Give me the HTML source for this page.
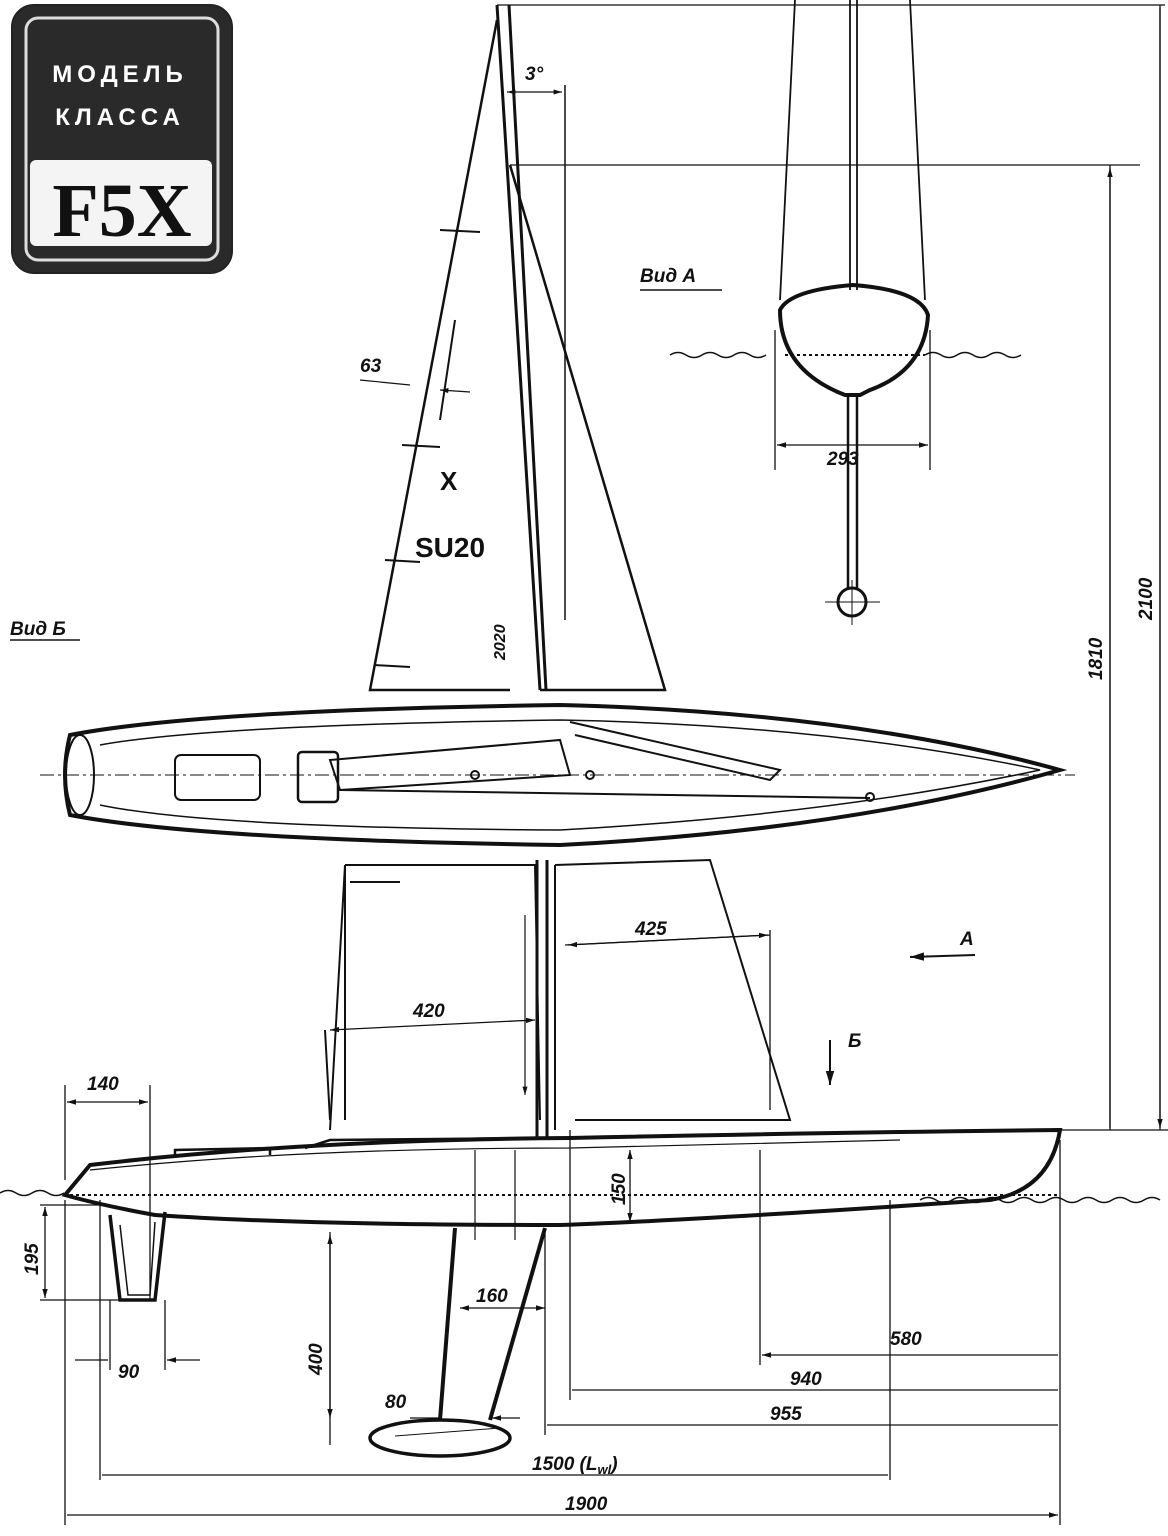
<!DOCTYPE html>
<html><head><meta charset="utf-8"><style>
html,body{margin:0;padding:0;background:#fff;}
svg{display:block;}
text{font-family:"Liberation Sans",sans-serif;font-weight:bold;fill:#111;font-style:italic;}
</style></head><body>
<svg width="1168" height="1536" viewBox="0 0 1168 1536" xmlns="http://www.w3.org/2000/svg">
<defs>
<marker id="a" viewBox="0 0 10 10" refX="10" refY="5" markerWidth="7" markerHeight="7" orient="auto-start-reverse"><path d="M0,2 L10,5 L0,8 z" fill="#111"/></marker>
</defs>
<g stroke="#111" fill="none" stroke-width="2">
<!-- logo -->
<rect x="12" y="5" width="220" height="268" rx="22" fill="#2a2a2a" stroke="#222"/>
<rect x="26" y="18" width="192" height="242" rx="12" fill="none" stroke="#ddd" stroke-width="3"/>
<rect x="30" y="160" width="182" height="86" rx="6" fill="#f4f4f4" stroke="none"/>
</g>
<text x="120" y="82" text-anchor="middle" font-size="24" style="fill:#fff;font-style:normal;letter-spacing:5px">МОДЕЛЬ</text>
<text x="120" y="125" text-anchor="middle" font-size="24" style="fill:#fff;font-style:normal;letter-spacing:5px">КЛАССА</text>
<text x="122" y="236" text-anchor="middle" font-size="76" style="fill:#111;font-style:normal;font-family:'Liberation Serif',serif">F5X</text>

<g stroke="#111" fill="none" stroke-width="2">
<!-- mast -->
<path d="M497,5 L540,690 M509,5 L546,690" stroke-width="3"/>
<!-- mainsail -->
<path d="M497,20 L370,690 L510,690" stroke-width="2.5"/>
<path d="M440,230 L480,232 M402,445 L440,447 M385,560 L420,562 M374,665 L410,667 M455,320 L440,420" stroke-width="2"/>
<!-- jib -->
<path d="M510,165 L665,690 L540,690" stroke-width="2.5"/>
<path d="M565,85 L565,620" stroke-width="1.5"/>
<path d="M507,92 L562,92" stroke-width="1.2" marker-start="url(#a)" marker-end="url(#a)"/>
<path d="M360,380 L410,385 M470,392 L440,390" stroke-width="1.2" marker-end="url(#a)"/>
<!-- top dims -->
<path d="M497,5 L1165,5 M510,165 L1140,165 M1110,165 L1110,1130 M1160,5 L1160,1130 M1060,1130 L1168,1130" stroke-width="1.3"/>
<path d="M1110,168 L1110,1128 M1160,8 L1160,1128" stroke-width="1.3" marker-start="url(#a)" marker-end="url(#a)"/>
<!-- view A -->
<path d="M795,0 L780,300 M910,0 L925,300 M850,0 L850,290 M857,0 L857,290" stroke-width="1.8"/>
<path d="M780,310 Q790,290 853,285 Q920,290 928,315 Q925,370 870,390 L860,395 L845,395 Q780,370 780,310 Z" stroke-width="4"/>
<path d="M848,395 L848,590 M857,395 L857,590" stroke-width="2.5"/>
<circle cx="852" cy="602" r="14" stroke-width="3"/>
<path d="M825,602 L880,602 M852,580 L852,625" stroke-width="1"/>
<path d="M670,355 q8,-5 16,0 t16,0 t16,0 t16,0 t16,0 t16,0 M925,355 q8,-5 16,0 t16,0 t16,0 t16,0 t16,0 t16,0" stroke-width="1.5"/>
<path d="M785,355 L925,355" stroke-dasharray="3,3"/>
<path d="M775,330 L775,470 M930,330 L930,470" stroke-width="1.3"/>
<path d="M777,445 L928,445" stroke-width="1.3" marker-start="url(#a)" marker-end="url(#a)"/>
<path d="M640,290 L722,290 M10,640 L80,640" stroke-width="1.5"/>
<!-- top view hull -->
<path d="M70,735 Q200,710 560,705 Q850,712 1060,770 Q850,830 560,845 Q200,840 70,815 Q60,775 70,735 Z" stroke-width="4"/>
<path d="M100,745 Q210,725 560,720 Q830,725 1040,770 Q830,815 560,830 Q210,828 100,805" stroke-width="1.5"/>
<ellipse cx="80" cy="775" rx="14" ry="40" stroke-width="2"/>
<rect x="175" y="755" width="85" height="45" rx="6" stroke-width="2"/>
<rect x="298" y="752" width="40" height="50" rx="4" stroke-width="2.5"/>
<path d="M40,775 L1075,775" stroke-width="1" stroke-dasharray="14,4,3,4"/>
<path d="M330,760 L560,740 L570,775 L340,790 Z M570,722 L780,770 L770,780 L575,735" stroke-width="2"/>
<path d="M340,790 L870,798" stroke-width="2"/>
<circle cx="475" cy="775" r="4"/><circle cx="590" cy="775" r="4"/><circle cx="870" cy="797" r="4"/>
<!-- side view sails -->
<path d="M345,865 L345,1120 M345,865 L535,865 L540,1120 M325,1030 L330,1120" stroke-width="2"/>
<path d="M345,865 L330,1130" stroke-width="2"/>
<path d="M555,865 L710,860 L790,1120 L575,1120" stroke-width="2"/>
<path d="M555,865 L555,1130" stroke-width="2"/>
<path d="M537,860 L537,1140 M547,860 L547,1140" stroke-width="3"/>
<path d="M350,882 L400,882" stroke-width="2"/>
<path d="M525,915 L525,1095" stroke-width="1.2" marker-end="url(#a)"/>
<path d="M565,945 L770,935 M770,930 L770,1110" stroke-width="1.3"/>
<path d="M568,945 L768,935" marker-start="url(#a)" marker-end="url(#a)" stroke-width="1.3"/>
<path d="M330,1030 L535,1020" marker-start="url(#a)" marker-end="url(#a)" stroke-width="1.3"/>
<path d="M975,955 L910,957" marker-end="url(#a)" stroke-width="2"/>
<path d="M830,1040 L830,1085" marker-end="url(#a)" stroke-width="2"/>
<!-- side hull -->
<path d="M65,1195 L90,1165 Q300,1140 570,1138 Q850,1132 1060,1130 Q1050,1190 990,1200 Q700,1220 560,1225 Q300,1225 155,1215 Q100,1205 65,1195 Z" stroke-width="4"/>
<path d="M90,1170 Q300,1148 570,1148 L900,1140" stroke-width="1.2"/>
<path d="M175,1158 L175,1150 L270,1148 L270,1155 M305,1148 L330,1140 L545,1138" stroke-width="2.5"/>
<path d="M0,1193 q8,-5 16,0 t16,0 t16,0 t16,0 M920,1200 q8,-5 16,0 t16,0 t16,0 t16,0 t16,0 t16,0 t16,0 t16,0 t16,0 t16,0 t16,0 t16,0 t16,0 t16,0 t16,0" stroke-width="1.5"/>
<path d="M70,1195 L1060,1195" stroke-dasharray="3,3" stroke-width="2"/>
<!-- rudder -->
<path d="M110,1215 L120,1300 L155,1300 L165,1212" stroke-width="3.5"/>
<path d="M120,1225 L128,1295 L150,1295 L155,1222" stroke-width="1.5"/>
<!-- keel -->
<path d="M455,1228 L440,1420 M545,1228 L490,1420" stroke-width="4"/>
<ellipse cx="440" cy="1438" rx="70" ry="18" stroke-width="3.5"/>
<path d="M395,1436 L500,1428" stroke-width="1"/>
<!-- dims side -->
<path d="M65,1085 L65,1180 M150,1085 L150,1300" stroke-width="1.3"/>
<path d="M67,1102 L148,1102" marker-start="url(#a)" marker-end="url(#a)" stroke-width="1.3"/>
<path d="M40,1205 L110,1205 M40,1300 L120,1300" stroke-width="1.3"/>
<path d="M45,1207 L45,1298" marker-start="url(#a)" marker-end="url(#a)" stroke-width="1.3"/>
<path d="M110,1300 L110,1370 M165,1300 L165,1370" stroke-width="1.3"/>
<path d="M75,1360 L108,1360 M200,1360 L167,1360" marker-end="url(#a)" stroke-width="1.3"/>
<path d="M330,1232 L330,1445" stroke-width="1.3"/>
<path d="M330,1235 L330,1418" marker-start="url(#a)" marker-end="url(#a)" stroke-width="1.3"/>
<path d="M460,1308 L545,1308" marker-start="url(#a)" marker-end="url(#a)" stroke-width="1.3"/>
<path d="M630,1150 L630,1222" marker-start="url(#a)" marker-end="url(#a)" stroke-width="1.3"/>
<path d="M410,1418 L440,1418 M520,1418 L492,1418" marker-end="url(#a)" stroke-width="1.3"/>
<path d="M475,1150 L475,1240 M515,1150 L515,1240" stroke-width="1.2"/>
<path d="M760,1150 L760,1365 M890,1200 L890,1480 M570,1130 L570,1400 M545,1230 L545,1435 M1060,1140 L1060,1525 M100,1200 L100,1480 M65,1200 L65,1525" stroke-width="1.3"/>
<path d="M762,1355 L1058,1355 M572,1390 L1058,1390 M547,1425 L1058,1425 M102,1475 L888,1475 M67,1515 L1058,1515" marker-start="url(#a)" marker-end="url(#a)" stroke-width="1.3"/>
</g>
<g font-size="19">
<text x="525" y="80">3°</text>
<text x="640" y="282">Вид А</text>
<text x="10" y="635">Вид Б</text>
<text x="360" y="372">63</text>
<text x="827" y="465">293</text>
<text x="440" y="490" font-size="26" style="font-style:normal">X</text>
<text x="415" y="557" font-size="28" style="font-style:normal">SU20</text>
<text transform="translate(505,660) rotate(-90)" font-size="16">2020</text>
<text transform="translate(1102,680) rotate(-90)">1810</text>
<text transform="translate(1152,620) rotate(-90)">2100</text>
<text x="635" y="935">425</text>
<text x="960" y="945">А</text>
<text x="413" y="1017">420</text>
<text x="848" y="1047">Б</text>
<text x="87" y="1090">140</text>
<text transform="translate(625,1205) rotate(-90)">150</text>
<text transform="translate(38,1275) rotate(-90)">195</text>
<text x="118" y="1378">90</text>
<text x="476" y="1302">160</text>
<text transform="translate(322,1375) rotate(-90)">400</text>
<text x="385" y="1408">80</text>
<text x="890" y="1345">580</text>
<text x="790" y="1385">940</text>
<text x="770" y="1420">955</text>
<text x="532" y="1470">1500 (L<tspan font-size="13" dy="4">wl</tspan><tspan dy="-4">)</tspan></text>
<text x="565" y="1510">1900</text>
</g>
</svg>
</body></html>
